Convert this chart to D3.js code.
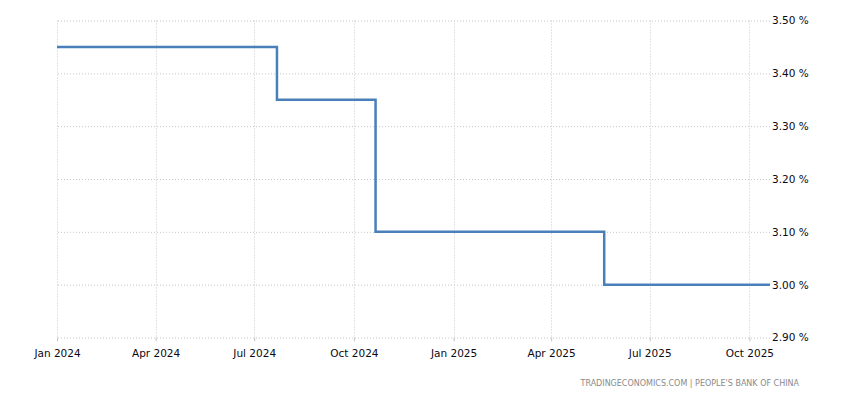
<!DOCTYPE html>
<html>
<head>
<meta charset="utf-8">
<script src="https://cdn.jsdelivr.net/npm/d3@7"></script>
<style>
  body { margin: 0; background: #fff; }
  svg text { font-family: "DejaVu Sans", sans-serif; }
</style>
</head>
<body>
<svg id="chart" width="850" height="400"></svg>
<script>
// step points: date the rate took effect, rate in %
const dates = ["2024-01-01", "2024-07-22", "2024-10-21", "2025-05-20", "2025-10-20"];
const rates = [3.45, 3.35, 3.10, 3.00, 3.00];
const xTicks = ["2024-01-01", "2024-04-01", "2024-07-01", "2024-10-01", "2025-01-01", "2025-04-01", "2025-07-01", "2025-10-01"];
const yTicks = [2.90, 3.00, 3.10, 3.20, 3.30, 3.40, 3.50];
const source = "TRADINGECONOMICS.COM  |  PEOPLE'S BANK OF CHINA";

const parse = d3.timeParse("%Y-%m-%d");
const data = dates.map((d, i) => ({ date: parse(d), value: rates[i] }));

const mLeft = 57, mRight = 770, mTop = 20.5, mBottom = 337.5;

const x = d3.scaleTime().domain([parse(dates[0]), parse(dates[dates.length - 1])]).range([mLeft, mRight]);
const y = d3.scaleLinear().domain([2.90, 3.50]).range([mBottom, mTop]);

const svg = d3.select("#chart");

// horizontal grid + right labels
const yg = svg.append("g").attr("transform", "translate(" + mRight + ",0)")
  .call(d3.axisRight(y).tickValues(yTicks).tickSize(-(mRight - mLeft)).tickPadding(2)
    .tickFormat(d => d3.format(".2f")(d) + " %"));
yg.select(".domain").remove();
yg.selectAll(".tick line").attr("stroke", "#c8c8c8").attr("stroke-dasharray", "1,2");
yg.selectAll(".tick text").attr("fill", "#0a0a14").attr("font-size", "10.5px")
  .attr("font-family", "DejaVu Sans");

// vertical grid
svg.append("g").selectAll("line").data(xTicks).join("line")
  .attr("x1", d => Math.round(x(parse(d))) + 0.5).attr("x2", d => Math.round(x(parse(d))) + 0.5)
  .attr("y1", mTop).attr("y2", mBottom + 4)
  .attr("stroke", "#c8c8c8").attr("stroke-dasharray", "1,2");

// bottom axis labels
const xg = svg.append("g").attr("transform", "translate(0," + mBottom + ")")
  .call(d3.axisBottom(x).tickValues(xTicks.map(parse)).tickSize(4).tickPadding(8)
    .tickFormat(d3.timeFormat("%b %Y")));
xg.select(".domain").remove();
xg.selectAll(".tick line").attr("stroke", "#c8c8c8");
xg.selectAll(".tick text").attr("fill", "#0a0a14").attr("font-size", "10.5px").attr("font-family", "DejaVu Sans");

// the rate line
const line = d3.line().x(d => x(d.date)).y(d => y(d.value)).curve(d3.curveStepAfter);
svg.append("path").datum(data)
  .attr("fill", "none").attr("stroke", "#4a80ba").attr("stroke-width", 2.5)
  .attr("d", line);

// source note
svg.append("text").attr("x", 799).attr("y", 386).attr("text-anchor", "end")
  .attr("font-size", "8px").attr("fill", "#8a8a8a")
  .text(source);
</script>
</body>
</html>
